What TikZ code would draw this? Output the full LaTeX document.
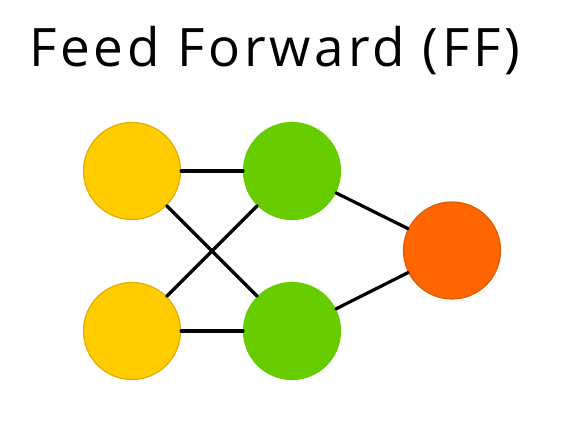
\documentclass[tikz,border=0pt]{standalone}
\usepackage{fontspec}
\setmainfont{Open Sans}[LetterSpace=7.2]
\definecolor{inyellow}{HTML}{FFCC00}
\definecolor{inborder}{HTML}{E0AE00}
\definecolor{hidgreen}{HTML}{66CC00}
\definecolor{outorange}{HTML}{FF6600}
\definecolor{outborder}{HTML}{E05A00}
\tikzset{
	neuron/.style={circle, minimum size=97pt, inner sep=0pt, line width=1.2pt},
	input/.style={neuron, fill=inyellow, draw=inborder},
	hidden/.style={neuron, fill=hidgreen, draw=hidgreen},
	output/.style={neuron, fill=outorange, draw=outborder},
	link/.style={line width=3.2pt, black}
}
\begin{document}
\begin{tikzpicture}[x=1pt, y=1pt, line join=round, line cap=round]
	\useasboundingbox (0,0) rectangle (564,428);
	\node[anchor=base west, inner sep=0pt, font=\fontsize{53}{58}\selectfont] (title) at (29,361) {Feed Forward (FF)};
	% layers
	\node[input] (i1) at (132,257) {};
	\node[input] (i2) at (132,97) {};
	\node[hidden] (h1) at (292,257) {};
	\node[hidden] (h2) at (292,97) {};
	\node[output] (o) at (452,177.5) {};
	% connections
	\foreach \a in {i1,i2}
		\foreach \b in {h1,h2}
			\draw[link] (\a) -- (\b);
	\foreach \b in {h1,h2}
		\draw[link] (\b) -- (o);
\end{tikzpicture}
\end{document}
